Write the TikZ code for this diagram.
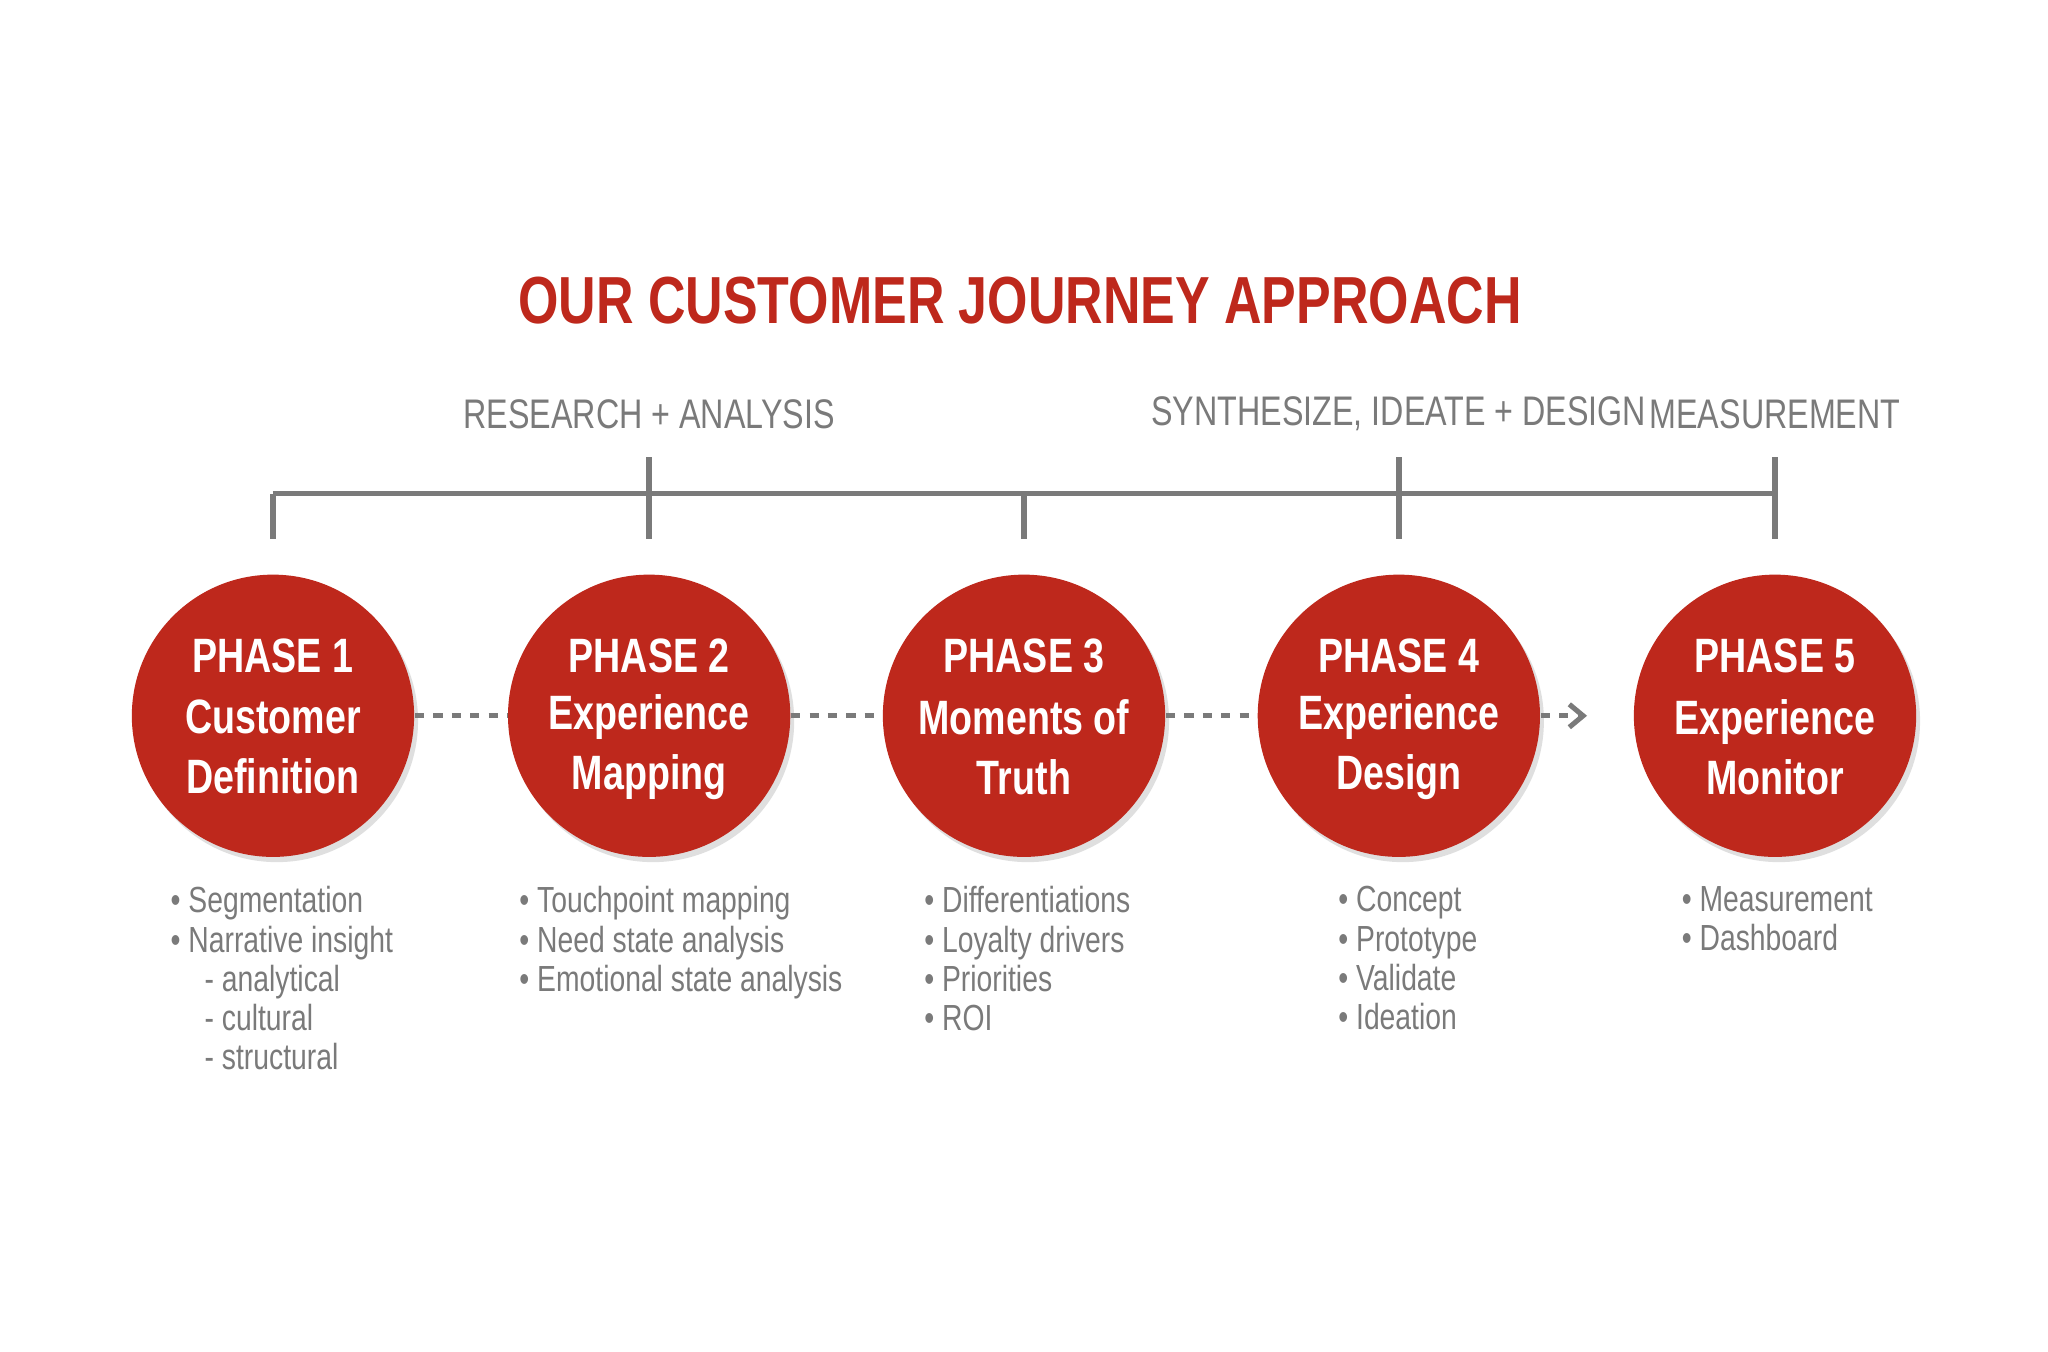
\documentclass[tikz,border=0pt]{standalone}
\usepackage{fontspec}
\setmainfont{Liberation Sans}
\newfontfamily\cond[FakeStretch=0.78]{Liberation Sans}
\usetikzlibrary{shadows,arrows.meta}
\definecolor{cred}{HTML}{BE281C}
\definecolor{cgray}{HTML}{7A7A7A}
\tikzset{
 phase/.style={circle,fill=cred,minimum size=2.16cm,inner sep=0pt,drop shadow={opacity=0.25,shadow xshift=0.03cm,shadow yshift=-0.04cm}},
 ptxt/.style={text=white,font=\cond\bfseries\fontsize{10.5}{13}\selectfont,align=center},
 grp/.style={text=cgray,font=\cond\fontsize{9}{11}\selectfont},
 lst/.style={text=cgray,font=\cond\fontsize{7.9}{8.54}\selectfont,align=left,anchor=north west,inner sep=0pt},
 brk/.style={draw=cgray,line width=1.2pt},
 dots/.style={draw=cgray,line width=1.1pt,dash pattern=on 2pt off 2pt}
}
\newcommand{\bl}{\textbullet\ }
\begin{document}
\begin{tikzpicture}[x=0.01cm,y=-0.01cm]
\useasboundingbox[fill=white] (0,0) rectangle (1568,1035);
\node[text=cred,font=\cond\bfseries\fontsize{14.5}{16}\selectfont] (title) at (781,230) {OUR CUSTOMER JOURNEY APPROACH};
\node[grp] (g1) at (497,317) {RESEARCH + ANALYSIS};
\node[grp] (g2) at (1071,317) {SYNTHESIZE, IDEATE + DESIGN};
\node[grp] (g3) at (1359,317) {MEASUREMENT};
\coordinate (hl) at (209,378); \coordinate (hr) at (1359,378);
\draw[brk] (hl) -- (hr);
\foreach \x/\t in {209/378,497/350,784/378,1071/350,1359/350}
  \draw[brk] (\x,\t) -- (\x,413);
\foreach \i/\x/\a/\b in {1/209/Customer/Definition,2/497/Experience/Mapping,3/784/Moments of/Truth,4/1071/Experience/Design,5/1359/Experience/Monitor}{
  \node[phase] (c\i) at (\x,548) {};
  \node[ptxt] (p\i) at (\x,502) {PHASE \i};
  \node[ptxt] (t\i) at (\x,572) {\a\\\b};
}
\draw[dots] (c1.east) -- (c2.west);
\draw[dots] (c2.east) -- (c3.west);
\draw[dots] (c3.east) -- (c4.west);
\draw[dots,-{Straight Barb[length=3pt,width=5pt]}] (c4.east) -- ([xshift=-10]c5.west);
\node[lst] (l1) at (130,678) {\bl Segmentation\\\bl Narrative insight\\\hspace{2.6mm}- analytical\\\hspace{2.6mm}- cultural\\\hspace{2.6mm}- structural};
\node[lst] (l2) at (397,678) {\bl Touchpoint mapping\\\bl Need state analysis\\\bl Emotional state analysis};
\node[lst] (l3) at (707,678) {\bl Differentiations\\\bl Loyalty drivers\\\bl Priorities\\\bl ROI};
\node[lst] (l4) at (1024,678) {\bl Concept\\\bl Prototype\\\bl Validate\\\bl Ideation};
\node[lst] (l5) at (1287,678) {\bl Measurement\\\bl Dashboard};
\end{tikzpicture}
\end{document}
